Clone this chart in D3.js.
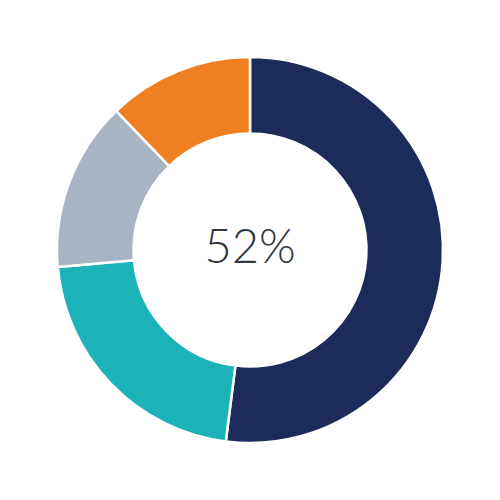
<!DOCTYPE html>
<html>
<head>
<meta charset="utf-8">
<style>
  html, body { margin: 0; padding: 0; background: #fff; }
  svg { display: block; }
</style>
<script src="https://cdn.jsdelivr.net/npm/d3@7.9.0/dist/d3.min.js"></script>
</head>
<body>
<svg id="donut" width="500" height="500"></svg>
<script>
// Data
const categories = ['A', 'B', 'C', 'D'];
const values = [52, 21.6, 14.2, 12.2];
const colors = ['#1c2b5a', '#1bb3b8', '#a8b4c2', '#f07f22'];
const centerLabel = '52%';

const width = 500;
const height = 500;
const outerRadius = 193;
const innerRadius = 116.5;

const svg = d3.select('#donut');
const g = svg.append('g').attr('transform', `translate(${width / 2},${height / 2})`);

const data = categories.map((c, i) => ({ label: c, value: values[i] }));

const pie = d3.pie().value((d) => d.value).sort(null);
const arc = d3.arc().innerRadius(innerRadius).outerRadius(outerRadius);
const color = d3.scaleOrdinal().domain(categories).range(colors);

g.selectAll('path')
  .data(pie(data))
  .join('path')
  .attr('d', arc)
  .attr('fill', (d) => color(d.data.label))
  .attr('stroke', '#fff')
  .attr('stroke-width', 2.5)
  .attr('stroke-linejoin', 'round');

// Center label
g.append('text')
  .attr('text-anchor', 'middle')
  .attr('y', 13)
  .attr('font-family', 'Lato, "Open Sans", sans-serif')
  .attr('font-weight', 300)
  .attr('font-size', 47)
  .attr('fill', '#30363f')
  .text(centerLabel);
</script>
</body>
</html>
